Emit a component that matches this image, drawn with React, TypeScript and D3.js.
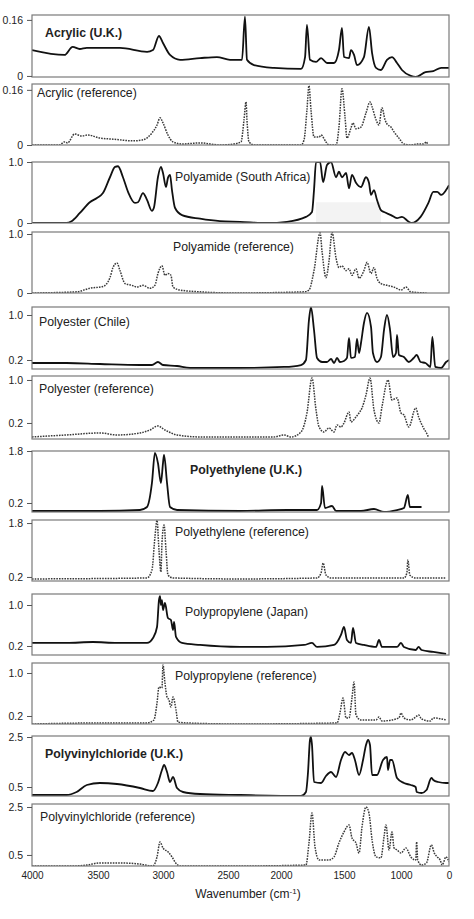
import React, { useEffect, useRef } from "react";
import * as d3 from "d3";

type Pt = [number, number];

// wavenumber ticks as printed (the printed axis is not evenly spaced)
const xTicks = [4000, 3500, 3000, 2500, 2000, 1500, 1000, 0];
const xTickPx = [32, 98, 163, 228, 281, 344, 401, 449];

// spectra: [wavenumber, absorbance]
const acrylicUK: Pt[] = [
  [4000, 0.074], [3754, 0.06], [3692, 0.083], [3639, 0.077], [3585, 0.08], [3331, 0.08],
  [3123, 0.069], [3077, 0.074], [3031, 0.114], [3000, 0.094], [2946, 0.06], [2869, 0.046],
  [2715, 0.051], [2585, 0.054], [2481, 0.046], [2368, 0.046], [2340, 0.169], [2321, 0.046],
  [2255, 0.031], [2066, 0.023], [1841, 0.02], [1809, 0.054], [1794, 0.146], [1770, 0.046],
  [1722, 0.04], [1682, 0.051], [1635, 0.037], [1579, 0.037], [1540, 0.074], [1516, 0.137],
  [1500, 0.054], [1456, 0.051], [1439, 0.074], [1412, 0.06], [1386, 0.031], [1325, 0.054],
  [1281, 0.14], [1254, 0.066], [1219, 0.023], [1176, 0.017], [1123, 0.046], [1079, 0.054],
  [1035, 0.037], [980, 0.017], [796, 0.0], [694, -0.003], [490, 0.011], [327, 0.014],
  [163, 0.023], [0, 0.023],
];

const acrylicRef: Pt[] = [
  [4000, 0], [3792, 0], [3754, 0.009], [3731, 0.006], [3677, 0.032], [3623, 0.026],
  [3577, 0.029], [3485, 0.02], [3385, 0.017], [3231, 0.012], [3154, 0.015], [3085, 0.035],
  [3046, 0.058], [3023, 0.079], [3000, 0.064], [2962, 0.029], [2923, 0.009], [2854, 0.003],
  [2715, 0.006], [2562, 0], [2443, 0.003], [2377, 0.009], [2349, 0.073], [2330, 0.125],
  [2321, 0.073], [2302, 0.009], [2255, 0], [1841, 0], [1817, 0.015], [1794, 0.102],
  [1778, 0.172], [1762, 0.102], [1738, 0.023], [1698, 0.023], [1682, 0.029], [1643, 0.009],
  [1619, 0], [1563, 0], [1540, 0.052], [1516, 0.163], [1491, 0.081], [1474, 0.02],
  [1439, 0.049], [1421, 0.064], [1395, 0.047], [1351, 0.052], [1307, 0.093], [1272, 0.125],
  [1254, 0.111], [1219, 0.073], [1193, 0.058], [1167, 0.108], [1140, 0.073], [1123, 0.061],
  [1088, 0.052], [1061, 0.038], [1018, 0.02], [939, 0.003], [796, 0], [633, 0.003],
  [531, 0.003], [469, 0.009], [449, 0.003],
];

const polyamideSA: Pt[] = [
  [4000, 0], [3739, 0], [3700, 0.03], [3639, 0.16], [3562, 0.34], [3508, 0.41], [3462, 0.49],
  [3408, 0.75], [3369, 0.92], [3346, 0.93], [3308, 0.75], [3269, 0.51], [3216, 0.33],
  [3193, 0.34], [3154, 0.49], [3123, 0.38], [3085, 0.2], [3070, 0.25], [3039, 0.75],
  [3016, 0.92], [3000, 0.82], [2977, 0.59], [2962, 0.74], [2946, 0.79], [2931, 0.54],
  [2908, 0.25], [2854, 0.13], [2715, 0.07], [2562, 0.03], [2387, 0.02], [2132, 0],
  [1952, 0.02], [1802, 0.1], [1754, 0.18], [1738, 0.54], [1722, 1.0], [1690, 1.0],
  [1666, 0.67], [1635, 0.95], [1603, 1.0], [1563, 0.75], [1540, 0.84], [1516, 0.75],
  [1482, 0.82], [1456, 0.57], [1430, 0.79], [1395, 0.66], [1351, 0.59], [1307, 0.75],
  [1281, 0.66], [1263, 0.46], [1237, 0.54], [1211, 0.38], [1176, 0.21], [1149, 0.18],
  [1088, 0.13], [1035, 0.08], [980, 0.1], [837, 0.02], [776, 0], [592, 0.1], [429, 0.33],
  [327, 0.51], [245, 0.51], [163, 0.46], [61, 0.54], [0, 0.62],
];
// light grey band printed under the polyamide (South Africa) trace
const polyamideBand = { from: 1722, to: 1176, level: 0.34 };

const polyamideRef: Pt[] = [
  [4000, 0], [3662, 0.02], [3562, 0.08], [3462, 0.11], [3408, 0.26], [3385, 0.43],
  [3354, 0.51], [3331, 0.38], [3292, 0.16], [3239, 0.13], [3200, 0.1], [3154, 0.13],
  [3100, 0.08], [3062, 0.13], [3039, 0.33], [3008, 0.46], [2985, 0.3], [2962, 0.33],
  [2939, 0.3], [2923, 0.1], [2869, 0.05], [2715, 0.02], [2443, 0], [1817, 0.02],
  [1778, 0.05], [1738, 0.38], [1690, 1.02], [1674, 0.7], [1643, 0.26], [1619, 0.54],
  [1595, 1.03], [1563, 0.59], [1540, 0.43], [1516, 0.46], [1482, 0.38], [1456, 0.41],
  [1430, 0.3], [1395, 0.41], [1368, 0.25], [1325, 0.38], [1298, 0.52], [1263, 0.33],
  [1237, 0.43], [1211, 0.25], [1176, 0.16], [1123, 0.13], [1061, 0.1], [1000, 0.05],
  [898, 0.1], [796, 0.02], [469, 0],
];

const polyesterChile: Pt[] = [
  [4000, 0.147], [3739, 0.147], [3485, 0.129], [3177, 0.111], [3085, 0.111], [3039, 0.164],
  [3000, 0.111], [2892, 0.093], [2792, 0.058], [2387, 0.058], [1976, 0.076], [1841, 0.111],
  [1802, 0.2], [1778, 0.911], [1762, 1.14], [1738, 0.733], [1714, 0.236], [1674, 0.164],
  [1635, 0.164], [1603, 0.218], [1579, 0.147], [1555, 0.236], [1532, 0.164], [1500, 0.182],
  [1474, 0.236], [1456, 0.591], [1439, 0.236], [1404, 0.253], [1386, 0.573], [1368, 0.324],
  [1351, 0.502], [1325, 0.858], [1298, 1.036], [1263, 0.787], [1246, 0.324], [1211, 0.164],
  [1176, 0.253], [1149, 0.733], [1123, 1.0], [1096, 0.733], [1070, 0.253], [1044, 0.324],
  [1035, 0.644], [1018, 0.289], [939, 0.253], [837, 0.164], [735, 0.236], [674, 0.289],
  [592, 0.164], [490, 0.147], [388, 0.076], [347, 0.609], [286, 0.076], [163, 0.058],
  [61, 0.164], [0, 0.2],
];

const polyesterRef: Pt[] = [
  [4000, -0.06], [3739, -0.023], [3485, 0.014], [3354, -0.023], [3177, 0.014], [3100, 0.07],
  [3039, 0.144], [2985, 0.07], [2892, -0.023], [2715, -0.06], [2066, -0.06], [1976, -0.023],
  [1921, -0.06], [1841, 0.033], [1794, 0.386], [1754, 1.037], [1722, 0.442], [1698, 0.126],
  [1659, 0.033], [1619, 0.107], [1579, 0.033], [1555, 0.163], [1524, 0.126], [1500, 0.2],
  [1456, 0.405], [1439, 0.219], [1395, 0.312], [1368, 0.386], [1342, 0.479], [1307, 0.721],
  [1272, 1.037], [1237, 0.442], [1193, 0.2], [1167, 0.498], [1114, 1.0], [1079, 0.628],
  [1035, 0.665], [1000, 0.386], [939, 0.349], [837, 0.126], [694, 0.479], [633, 0.312],
  [531, 0.107], [469, 0.014], [429, -0.06],
];

const polyethyleneUK: Pt[] = [
  [4000, -0.046], [3485, -0.046], [3177, -0.016], [3123, 0.077], [3085, 0.816], [3062, 1.74],
  [3039, 1.43], [3016, 0.816], [3000, 1.43], [2992, 1.678], [2969, 0.816], [2946, 0.077],
  [2892, -0.016], [2387, -0.046], [1952, -0.016], [1714, -0.016], [1682, 0.2], [1674, 0.724],
  [1651, 0.046], [1595, 0.108], [1563, -0.046], [1351, -0.046], [1237, 0.015], [1149, -0.077],
  [1035, -0.016], [939, 0.046], [857, 0.446], [816, 0.077], [572, 0.077],
];

const polyethyleneRef: Pt[] = [
  [4000, 0.141], [3123, 0.17], [3085, 0.407], [3062, 1.384], [3046, 1.88], [3031, 0.999],
  [3016, 0.348], [3008, 1.206], [2992, 1.739], [2977, 0.999], [2962, 0.259], [2923, 0.17],
  [2387, 0.141], [1714, 0.17], [1682, 0.318], [1666, 0.614], [1643, 0.259], [1603, 0.17],
  [939, 0.17], [878, 0.318], [857, 0.703], [816, 0.259], [694, 0.17], [61, 0.17],
];

const polypropyleneJapan: Pt[] = [
  [4000, 0.259], [3739, 0.259], [3539, 0.278], [3354, 0.259], [3123, 0.259], [3077, 0.356],
  [3046, 0.571], [3031, 1.097], [3023, 1.175], [3016, 1.0], [3008, 1.097], [3000, 0.902],
  [2985, 1.039], [2962, 0.746], [2939, 0.707], [2923, 0.512], [2915, 0.668], [2900, 0.376],
  [2854, 0.259], [2715, 0.22], [2387, 0.181], [2132, 0.181], [1817, 0.22], [1754, 0.259],
  [1714, 0.181], [1579, 0.22], [1524, 0.415], [1500, 0.571], [1474, 0.317], [1439, 0.259],
  [1421, 0.551], [1395, 0.259], [1325, 0.22], [1219, 0.181], [1193, 0.317], [1167, 0.181],
  [1035, 0.181], [1000, 0.259], [939, 0.181], [694, 0.122], [633, 0.181], [572, 0.122],
  [327, 0.083], [61, 0.044],
];

const polypropyleneRef: Pt[] = [
  [4000, 0.051], [3485, 0.07], [3123, 0.07], [3070, 0.126], [3046, 0.442], [3031, 0.739],
  [3008, 0.721], [3000, 1.149], [2985, 0.814], [2969, 0.553], [2954, 0.498], [2939, 0.367],
  [2923, 0.553], [2900, 0.312], [2885, 0.088], [2815, 0.07], [2387, 0.051], [1555, 0.07],
  [1532, 0.256], [1508, 0.535], [1482, 0.163], [1456, 0.163], [1430, 0.535], [1412, 0.832],
  [1395, 0.219], [1351, 0.126], [1219, 0.126], [1193, 0.181], [1167, 0.107], [1018, 0.163],
  [1000, 0.256], [939, 0.163], [796, 0.126], [694, 0.181], [633, 0.219], [572, 0.144],
  [388, 0.107], [327, 0.163], [61, 0.126],
];

const pvcUK: Pt[] = [
  [4000, 0.18], [3739, 0.18], [3662, 0.3], [3585, 0.58], [3485, 0.66], [3354, 0.62],
  [3177, 0.46], [3077, 0.34], [3039, 0.66], [3008, 1.18], [2992, 1.38], [2969, 1.1],
  [2946, 0.7], [2923, 0.9], [2892, 0.46], [2846, 0.3], [2715, 0.22], [2387, 0.18],
  [1841, 0.14], [1802, 0.3], [1786, 1.06], [1770, 2.38], [1762, 2.5], [1754, 2.18],
  [1738, 0.7], [1682, 0.66], [1643, 0.94], [1603, 1.1], [1563, 0.9], [1524, 1.58],
  [1491, 1.9], [1456, 1.78], [1430, 1.86], [1404, 1.58], [1368, 0.98], [1333, 1.58],
  [1307, 2.18], [1289, 2.38], [1272, 2.18], [1254, 0.98], [1211, 0.98], [1158, 1.58],
  [1123, 1.7], [1114, 1.18], [1096, 1.58], [1079, 1.58], [1035, 0.86], [939, 0.66],
  [796, 0.58], [694, 0.5], [674, 0.3], [572, 0.26], [469, 0.38], [367, 0.86], [327, 0.78],
  [225, 0.7], [61, 0.66], [0, 0.66],
];

const pvcRef: Pt[] = [
  [4000, 0.04], [3692, 0.04], [3585, 0.08], [3485, 0.17], [3354, 0.17], [3177, 0.12],
  [3077, 0.04], [3046, 0.42], [3023, 1.04], [3000, 0.79], [2962, 0.63], [2931, 0.42],
  [2908, 0.21], [2869, 0.04], [2387, 0.04], [1802, 0.08], [1778, 1.0], [1754, 2.25],
  [1730, 0.83], [1698, 0.29], [1619, 0.29], [1579, 0.42], [1540, 1.0], [1500, 1.46],
  [1456, 1.75], [1430, 1.21], [1395, 1.0], [1368, 0.58], [1342, 1.67], [1307, 2.5],
  [1281, 2.25], [1254, 1.13], [1219, 0.42], [1176, 0.38], [1149, 1.25], [1132, 1.75],
  [1105, 0.71], [1079, 1.46], [1061, 0.79], [1035, 0.71], [1000, 0.58], [898, 0.79],
  [796, 0.42], [694, 0.29], [674, 1.04], [653, 0.29], [572, 0.08], [469, 0.17], [367, 0.92],
  [306, 0.58], [245, 0.42], [184, 0.29], [143, 0.08], [61, 0.42], [0, 0.21],
];

const panels = [
  { title: "Acrylic (U.K.)", data: acrylicUK, dotted: false, bold: true, top: 15, bottom: 77, domain: [-0.003, 0.174], ticks: [0, 0.16], labels: ["0", "0.16"], lx: 45, ly: 37 },
  { title: "Acrylic (reference)", data: acrylicRef, dotted: true, bold: false, top: 84, bottom: 145, domain: [0, 0.177], ticks: [0, 0.16], labels: ["0", "0.16"], lx: 37, ly: 97 },
  { title: "Polyamide (South Africa)", data: polyamideSA, dotted: false, bold: false, top: 162, bottom: 223, domain: [0, 1.0], ticks: [0, 1.0], labels: ["0", "1.0"], lx: 175, ly: 181 },
  { title: "Polyamide (reference)", data: polyamideRef, dotted: true, bold: false, top: 232, bottom: 293, domain: [0, 1.034], ticks: [0, 1.0], labels: ["0", "1.0"], lx: 173, ly: 251 },
  { title: "Polyester (Chile)", data: polyesterChile, dotted: false, bold: false, top: 307, bottom: 369, domain: [0.04, 1.142], ticks: [0.2, 1.0], labels: ["0.2", "1.0"], lx: 39, ly: 326 },
  { title: "Polyester (reference)", data: polyesterRef, dotted: true, bold: false, top: 376, bottom: 439, domain: [-0.098, 1.074], ticks: [0.2, 1.0], labels: ["0.2", "1.0"], lx: 39, ly: 393 },
  { title: "Polyethylene (U.K.)", data: polyethyleneUK, dotted: false, bold: true, top: 451, bottom: 512, domain: [-0.077, 1.8], ticks: [0.2, 1.8], labels: ["0.2", "1.8"], lx: 190, ly: 474 },
  { title: "Polyethylene (reference)", data: polyethyleneRef, dotted: true, bold: false, top: 520, bottom: 581, domain: [0.08, 1.89], ticks: [0.2, 1.8], labels: ["0.2", "1.8"], lx: 175, ly: 536 },
  { title: "Polypropylene (Japan)", data: polypropyleneJapan, dotted: false, bold: false, top: 594, bottom: 655, domain: [0.024, 1.215], ticks: [0.2, 1.0], labels: ["0.2", "1.0"], lx: 185, ly: 616 },
  { title: "Polypropylene (reference)", data: polypropyleneRef, dotted: true, bold: false, top: 663, bottom: 724, domain: [0.051, 1.186], ticks: [0.2, 1.0], labels: ["0.2", "1.0"], lx: 175, ly: 680 },
  { title: "Polyvinylchloride (U.K.)", data: pvcUK, dotted: false, bold: true, top: 736, bottom: 796, domain: [0.14, 2.54], ticks: [0.5, 2.5], labels: ["0.5", "2.5"], lx: 45, ly: 758 },
  { title: "Polyvinylchloride (reference)", data: pvcRef, dotted: true, bold: false, top: 804, bottom: 866, domain: [0.04, 2.625], ticks: [0.5, 2.5], labels: ["0.5", "2.5"], lx: 40, ly: 821 },
];

const FONT = "'Liberation Sans', Arial, sans-serif";

const Axis = ({ scale, orient, transform, values, labels, size, padding, fontSize }: any) => {
  const axisRef = useRef<SVGGElement>(null);

  useEffect(() => {
    const gen = orient === "bottom" ? d3.axisBottom(scale) : d3.axisLeft(scale);
    gen
      .tickValues(values)
      .tickSize(size)
      .tickPadding(padding)
      .tickFormat((d: any, i: number) => (labels ? labels[i] : String(d)));
    const g = d3.select(axisRef.current!);
    g.call(gen as any);
    g.select(".domain").remove();
    g.attr("font-family", FONT).attr("font-size", fontSize);
    g.selectAll("text").attr("fill", "#222");
    g.selectAll("line").attr("stroke", "#555").attr("stroke-width", 1);
  }, [scale, orient, values, labels]);

  return <g ref={axisRef} transform={transform} />;
};

export default function App() {
  const x = d3.scaleLinear().domain(xTicks).range(xTickPx);
  const left = x(4000);
  const right = x(0);

  return (
    <svg
      width={474}
      height={919}
      style={{ position: "absolute", left: 0, top: 0, background: "#fff" }}
    >
      {panels.map((p, i) => {
        const y = d3.scaleLinear().domain(p.domain).range([p.bottom, p.top]);
        const line = d3
          .line<Pt>()
          .x((d) => x(d[0]))
          .y((d) => y(d[1]))
          .curve(d3.curveMonotoneX);
        return (
          <g key={i}>
            <defs>
              <clipPath id={`clip${i}`}>
                <rect x={left} y={p.top} width={right - left} height={p.bottom - p.top} />
              </clipPath>
            </defs>
            {i === 2 && (
              <rect
                x={x(polyamideBand.from)}
                y={y(polyamideBand.level)}
                width={x(polyamideBand.to) - x(polyamideBand.from)}
                height={y(0) - y(polyamideBand.level)}
                fill="#f3f3f3"
              />
            )}
            <path
              d={line(p.data) || ""}
              fill="none"
              stroke={p.dotted ? "#3a3a3a" : "#111"}
              strokeWidth={p.dotted ? 1.5 : 1.8}
              strokeDasharray={p.dotted ? "1.6 1.1" : undefined}
              strokeLinejoin="round"
              clipPath={`url(#clip${i})`}
            />
            <rect
              x={left}
              y={p.top}
              width={right - left}
              height={p.bottom - p.top}
              fill="none"
              stroke="#7a7a7a"
              strokeWidth={1.2}
            />
            <Axis
              scale={y}
              orient="left"
              transform={`translate(${left},0)`}
              values={p.ticks}
              labels={p.labels}
              size={5}
              padding={4}
              fontSize={10.5}
            />
            <text
              x={p.lx}
              y={p.ly}
              fontFamily={FONT}
              fontSize={12.3}
              fontWeight={p.bold ? "bold" : "normal"}
              fill="#222"
            >
              {p.title}
            </text>
          </g>
        );
      })}
      <Axis
        scale={x}
        orient="bottom"
        transform={`translate(0,867)`}
        values={xTicks}
        size={0}
        padding={5}
        fontSize={10}
      />
      <text x={248} y={898} textAnchor="middle" fontFamily={FONT} fontSize={12} fill="#222">
        Wavenumber  (cm
        <tspan dy={-4} fontSize={8}>-1</tspan>
        <tspan dy={4}>)</tspan>
      </text>
    </svg>
  );
}
